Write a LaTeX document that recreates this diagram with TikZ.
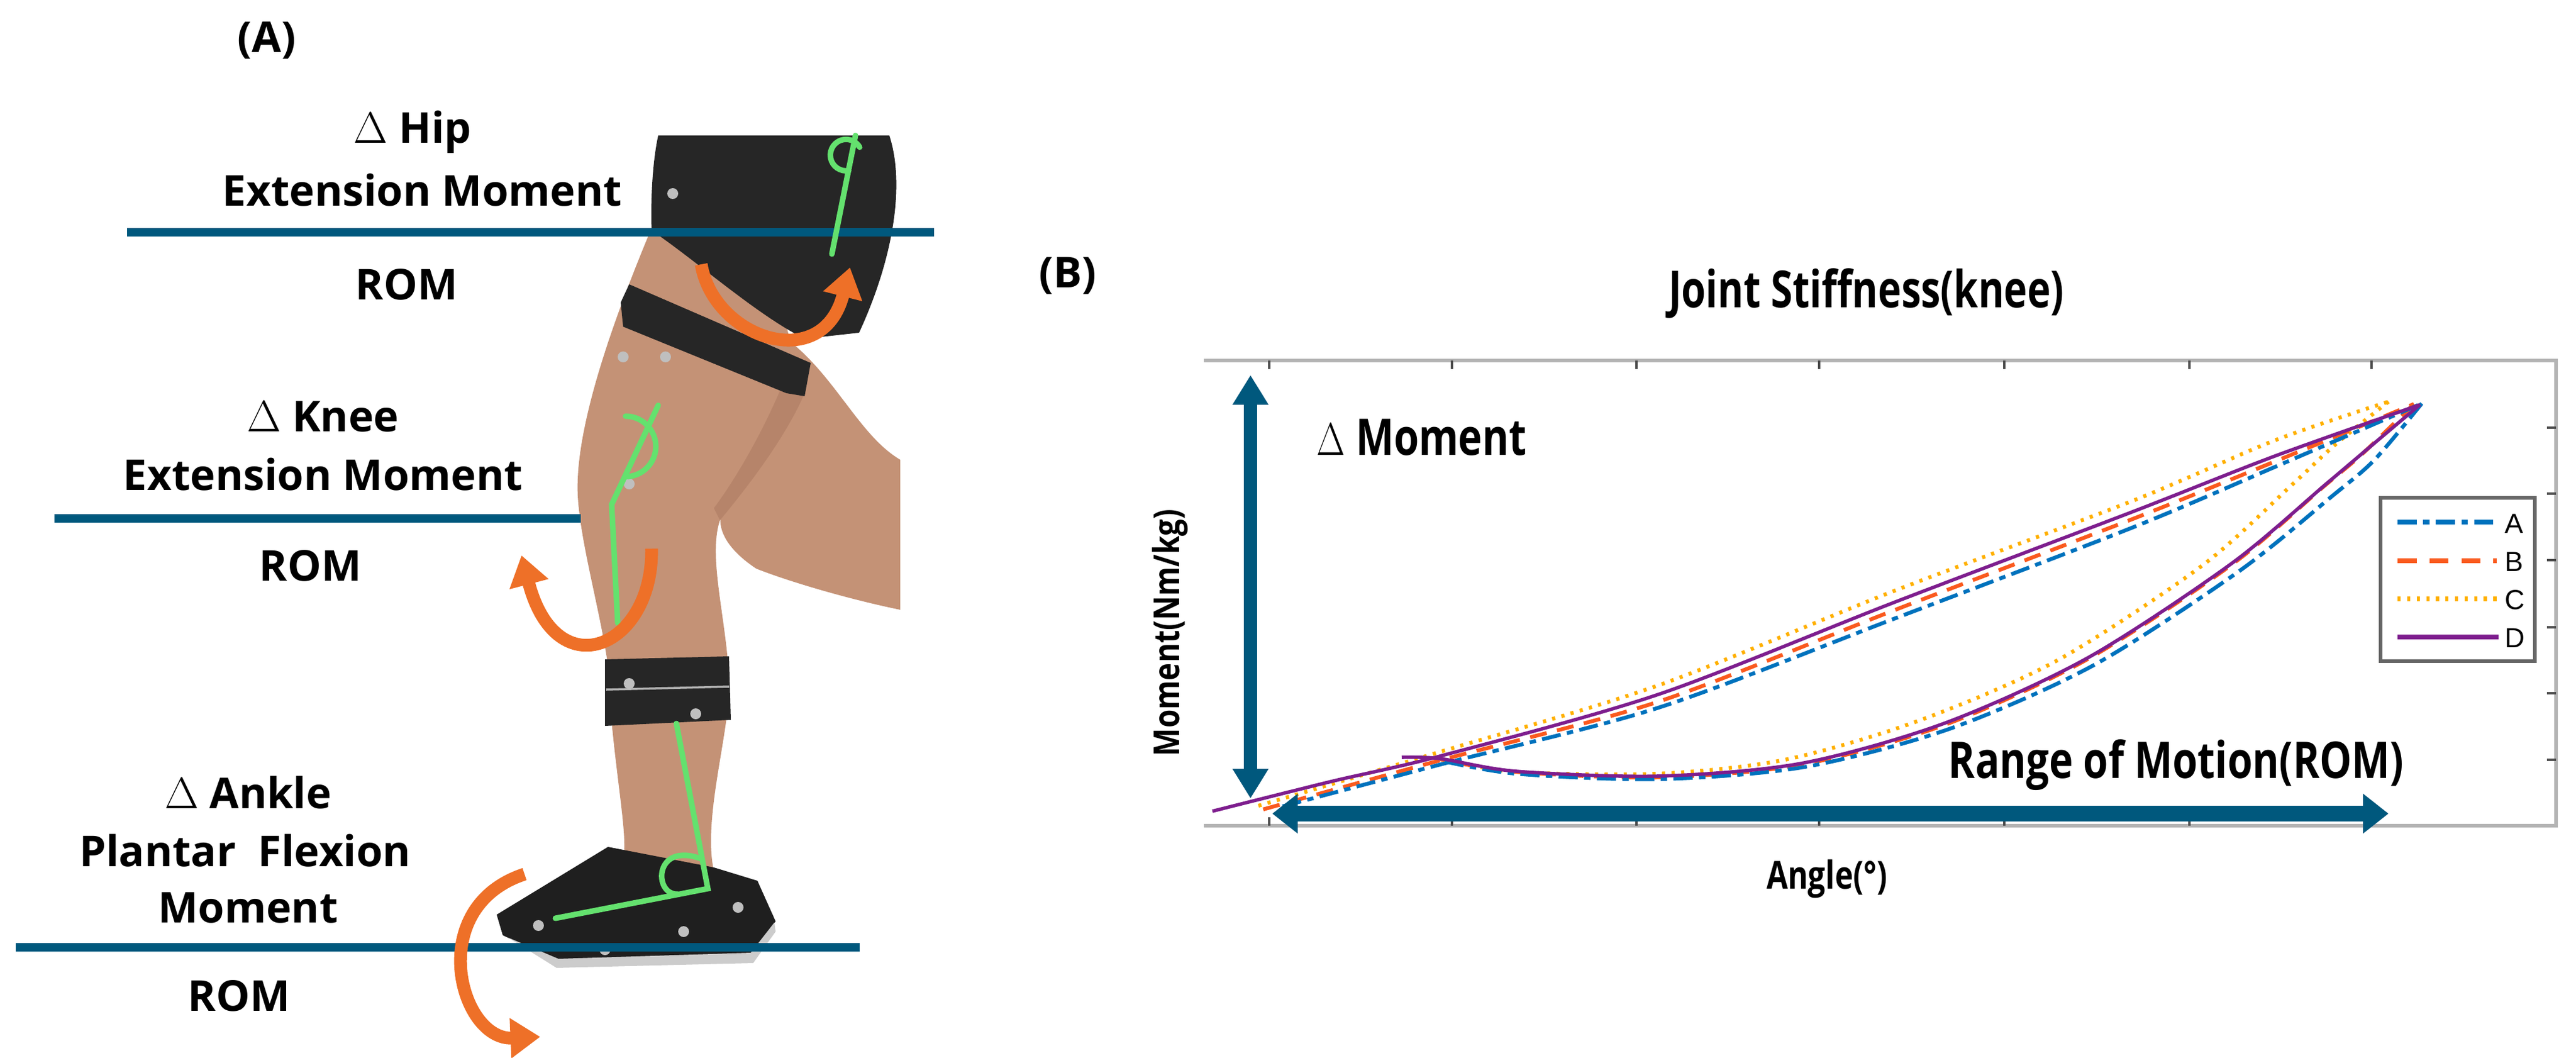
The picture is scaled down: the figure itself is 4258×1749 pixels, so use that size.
\documentclass[tikz,border=0pt]{standalone}
\usepackage{fontspec}
\setmainfont{Open Sans}
\setsansfont{Open Sans}
\newfontfamily\legfont{Liberation Sans}
\usetikzlibrary{arrows.meta}
\definecolor{bar}{RGB}{0,88,125}
\definecolor{skin}{RGB}{196,146,118}
\definecolor{skinD}{RGB}{170,120,95}
\definecolor{grn}{RGB}{100,225,110}
\definecolor{orng}{RGB}{238,112,40}
\definecolor{cA}{RGB}{0,114,189}
\definecolor{cB}{RGB}{250,90,30}
\definecolor{cC}{RGB}{255,176,0}
\definecolor{cD}{RGB}{126,30,142}
\definecolor{frm}{RGB}{180,180,180}
\tikzset{
  lbl/.style={font=\fontsize{20}{25}\selectfont\bfseries, align=center, inner sep=0pt},
  hline/.style={draw=bar, line width=4pt},
  bigarrow/.style={bar, line width=#1},
  glin/.style={draw=grn, line width=2.6pt, line cap=round},
  oarr/.style={draw=orng, line width=6pt, -{Triangle[length=14pt,width=18pt]}},
  crvA/.style={draw=cA, line width=1.8pt, dash pattern=on 9pt off 3pt on 3pt off 3pt},
  crvB/.style={draw=cB, line width=1.8pt, dash pattern=on 8pt off 5pt},
  crvC/.style={draw=cC, line width=1.8pt, dash pattern=on 1.5pt off 3pt},
  crvD/.style={draw=cD, line width=1.6pt},
  plotlbl/.style={font=\bfseries, inner sep=0pt},
  legtxt/.style={font=\legfont\fontsize{13}{15}\selectfont, anchor=west, inner sep=0pt},
}
\begin{document}
\begin{tikzpicture}[x=0.01cm,y=-0.01cm]
\useasboundingbox (0,0) rectangle (4258,1749);
% ---------- Panel A ----------
\node[lbl] (tA) at (441,67) {(A)};
% stylized leg
\fill[skin] (1080,370) .. controls (1000,560) and (950,720) .. (955,820)
  .. controls (960,900) and (990,1000) .. (1005,1100)
  .. controls (1010,1250) and (1040,1380) .. (1030,1420)
  -- (1180,1440) .. controls (1160,1350) and (1210,1200) .. (1205,1120)
  .. controls (1200,1020) and (1170,920) .. (1190,860)
  .. controls (1240,800) and (1300,720) .. (1330,650) -- (1300,540) -- cycle;
\fill[skin] (1300,560) .. controls (1380,620) and (1420,720) .. (1488,760)
  -- (1488,1008) .. controls (1400,990) and (1300,960) .. (1250,940)
  .. controls (1190,900) and (1180,860) .. (1200,830) -- (1290,650) -- cycle;
\fill[skinD,opacity=.5] (1190,860) .. controls (1240,800) and (1300,720) .. (1330,650) -- (1300,620) .. controls (1260,720) and (1210,800) .. (1180,840) -- cycle;
% shorts
\fill[black!85] (1088,224) -- (1470,224) .. controls (1495,300) and (1480,420) .. (1420,550)
  -- (1330,560) .. controls (1250,520) and (1150,430) .. (1077,381) .. controls (1075,320) and (1080,260) .. cycle;
% straps
\fill[black!85] (1026,500) -- (1040,470) -- (1340,600) -- (1330,655) -- (1300,650) -- (1030,540) -- cycle;
\fill[black!85] (1000,1090) -- (1205,1085) -- (1208,1190) -- (1000,1200) -- cycle;
\draw[white!70!black, line width=1pt] (1002,1140) -- (1205,1135);
% shoe
\fill[black!88] (821,1512) -- (1005,1400) -- (1180,1434) -- (1252,1456) -- (1282,1523) -- (1241,1579) -- (923,1590) -- (831,1546) -- cycle;
\fill[white!80!black] (840,1550) -- (923,1585) -- (1241,1575) -- (1280,1525) -- (1282,1540) -- (1245,1592) -- (920,1600) -- cycle;
\foreach \p in {(1100,590),(1112,320),(1040,1130),(1150,1180),(890,1530),(1000,1570),(1130,1540),(1220,1500),(1030,590),(1040,800)}
  \fill[white!75!black] \p circle (9);
% horizontal lines and labels
\draw[hline] (210,384) coordinate (h1) -- (1544,384) coordinate (h2);
\draw[hline] (90,857) coordinate (k1) -- (960,857) coordinate (k2);
\draw[hline] (26,1566) coordinate (a1) -- (1421,1566) coordinate (a2);
\node[lbl] (hip1) at (682,218) {$\Delta$ Hip};
\node[lbl] (hip2) at (698,314) {Extension Moment};
\node[lbl] (hip3) at (672,470) {ROM};
\node[lbl] (kn1) at (534,689) {$\Delta$ Knee};
\node[lbl] (kn2) at (534,784) {Extension Moment};
\node[lbl] (kn3) at (513,935) {ROM};
\node[lbl] (an1) at (410,1310) {$\Delta$ Ankle};
\node[lbl] (an2) at (405,1406) {Plantar~ Flexion};
\node[lbl] (an3) at (410,1501) {Moment};
\node[lbl] (an4) at (395,1646) {ROM};
% green joint lines
\draw[glin] (1414,224) coordinate (g1) -- (1375,420) coordinate (g2);
\draw[glin] (1403,282) arc[start angle=80, end angle=330, radius=26];
\draw[glin] (1088,670) coordinate (g3) -- (1011,834) coordinate (g4) -- (1021,1030) coordinate (g5);
\draw[glin] (1034,788) arc[start angle=90, end angle=-90, radius=50];
\draw[glin] (1118,1196) coordinate (g6) -- (1170,1469) coordinate (g7) -- (918,1518) coordinate (g8);
\draw[glin] (1160,1420) .. controls (1080,1390) and (1080,1480) .. (1120,1478);
% orange moment arrows
\draw[oarr] (1159,437) coordinate (o1) .. controls (1180,560) and (1360,620) .. (1405,442) coordinate (o2);
\draw[oarr] (1077,907) coordinate (o3) .. controls (1080,1070) and (920,1140) .. (862,918) coordinate (o4);
\draw[oarr] (867,1445) coordinate (o5) .. controls (700,1500) and (760,1720) .. (893,1714) coordinate (o6);
% ---------- Panel B ----------
\node[lbl] (tB) at (1765,456) {(B)};
\node[plotlbl, font=\fontsize{18.5}{22}\selectfont\bfseries] (title) at (3085,485) {\scalebox{1}[1.3]{Joint Stiffness(knee)}};
% frame
\draw[frm, line width=1.5pt] (1990,596) coordinate (f1) -- (4225,596) coordinate (f2) -- (4225,1365) coordinate (f3) -- (1990,1365) coordinate (f4);
\foreach \x in {2098,2400,2705,3007,3313,3619,3920} {
  \draw[black!70, line width=1pt] (\x,596) -- (\x,610);
  \draw[black!70, line width=1pt] (\x,1365) -- (\x,1351);
}
\foreach \y in {707,816,926,1037,1146,1256}
  \draw[black!70, line width=1pt] (4225,\y) -- (4210,\y);
\node[plotlbl, rotate=90, font=\fontsize{14}{17}\selectfont\bfseries] (ylab) at (1934,1046) {\scalebox{1}[1.2]{Moment(Nm/kg)}};
\node[plotlbl, font=\fontsize{14.5}{17}\selectfont\bfseries] (xlab) at (3020,1453) {\scalebox{1}[1.25]{Angle(°)}};
% curves
\draw[crvC] plot[smooth] coordinates {(2080,1332)(2380,1243)(2741,1133)(3133,976)(3525,828)(3760,728)(3948,664)};
\draw[crvC] plot[smooth] coordinates {(3948,664)(3860,735)(3790,800)(3640,935)(3400,1092)(3170,1192)(2950,1256)(2741,1279)(2506,1276)(2380,1254)};
\draw[crvB] plot[smooth] coordinates {(2088,1338)(2380,1257)(2741,1160)(3133,1008)(3525,858)(3760,763)(3990,668)};
\draw[crvB] plot[smooth] coordinates {(3990,668)(3905,750)(3840,805)(3688,934)(3450,1090)(3215,1198)(2978,1264)(2741,1285)(2506,1276)(2380,1255)};
\draw[crvA] plot[smooth] coordinates {(2120,1333)(2380,1264)(2741,1170)(3133,1022)(3525,872)(3760,772)(4003,667)};
\draw[crvA] plot[smooth] coordinates {(4003,667)(3925,760)(3855,820)(3700,945)(3460,1100)(3222,1205)(2982,1268)(2741,1288)(2506,1279)(2380,1257)};
\draw[crvD] plot[smooth] coordinates {(2004,1341)(2200,1292)(2380,1250)(2741,1148)(3133,995)(3525,846)(3760,754)(4000,669)};
\draw[crvD] plot[smooth] coordinates {(4000,669)(3910,745)(3845,800)(3688,932)(3450,1088)(3213,1196)(2977,1262)(2741,1283)(2506,1275)(2380,1254)(2317,1252)};
% big arrows
\coordinate (vt) at (2067,620);
\coordinate (vb) at (2067,1320);
\draw[bigarrow=6pt, {Triangle[length=14pt,width=16pt]}-{Triangle[length=14pt,width=16pt]}] (vt) -- (vb);
\coordinate (rl) at (2103,1345);
\coordinate (rr) at (3948,1345);
\draw[bigarrow=7.5pt, {Triangle[length=12pt,width=18pt]}-{Triangle[length=12pt,width=18pt]}] (rl) -- (rr);
\node[plotlbl, anchor=west, font=\fontsize{19}{22}\selectfont\bfseries] (dm) at (2176,723) {\scalebox{1}[1.25]{$\Delta$ Moment}};
\node[plotlbl, font=\fontsize{19}{22}\selectfont\bfseries] (rom) at (3597,1265) {\scalebox{1}[1.25]{Range of Motion(ROM)}};
% legend
\draw[black!60, line width=1.6pt, fill=white] (3935,823) rectangle (4190,1093);
\draw[draw=cA, line width=2pt, dash pattern=on 9pt off 3pt on 3pt off 3pt] (3963,863) -- (4127,863);
\draw[draw=cB, line width=2pt, dash pattern=on 9pt off 6pt] (3963,927) -- (4127,927);
\draw[crvC, line width=2pt] (3963,990) -- (4130,990);
\draw[crvD, line width=2pt] (3963,1053) -- (4130,1053);
\node[legtxt] (la) at (4140,866) {A};
\node[legtxt] (lb) at (4140,929) {B};
\node[legtxt] (lc) at (4140,992) {C};
\node[legtxt] (ld) at (4140,1055) {D};
\end{tikzpicture}
\end{document}
